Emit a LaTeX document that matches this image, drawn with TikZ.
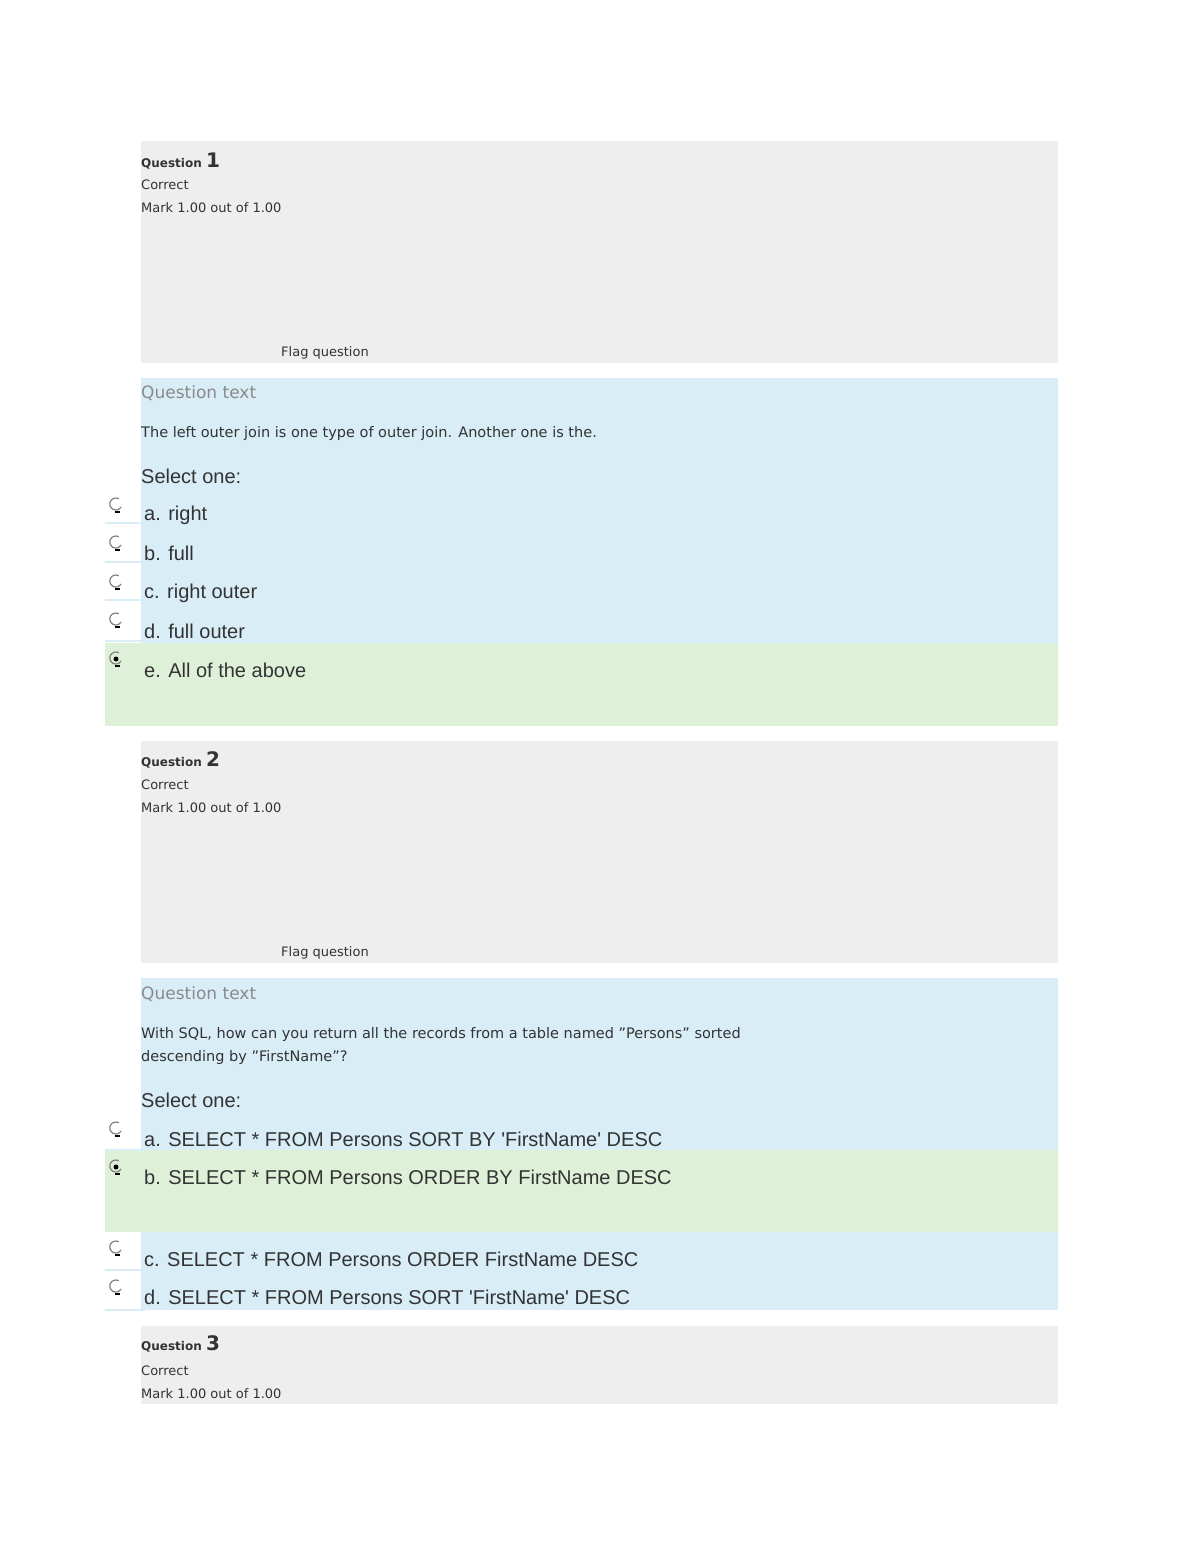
\documentclass[tikz,border=0pt]{standalone}
\usepackage{fontspec}
\setmainfont{DejaVu Sans}
\newfontfamily\optfont{Liberation Sans}
\definecolor{greybg}{HTML}{EEEEEE}
\definecolor{bluebg}{HTML}{D9EDF7}
\definecolor{greenbg}{HTML}{DFF0D8}
\definecolor{txt}{HTML}{333333}
\definecolor{qtxt}{HTML}{8A8A8A}
\tikzset{
  lbl/.style={anchor=west,inner sep=0pt,text=txt,font=\fontsize{13}{15}\selectfont},
  qlbl/.style={anchor=west,inner sep=0pt,text=txt,font=\bfseries\fontsize{12}{14}\selectfont},
  qtl/.style={anchor=west,inner sep=0pt,text=qtxt,font=\fontsize{17}{19}\selectfont},
  body/.style={anchor=west,inner sep=0pt,text=txt,font=\fontsize{14.5}{17}\selectfont},
  opt/.style={anchor=west,inner sep=0pt,text=txt,font=\optfont\fontsize{20}{22}\selectfont},
  sel/.style={anchor=west,inner sep=0pt,text=txt,font=\optfont\fontsize{20}{22}\selectfont},
}
\newcommand{\radio}[3]{%
  \draw[gray,line width=1.2pt] (#1+5,#2+2) arc (30:300:6);
  \draw[black,line width=1.6pt] (#1-1,#2+7) -- (#1+4,#2+7);
  \ifnum#3=1 \fill[black] (#1,#2) circle (2.5);\fi}
\newcommand{\strip}[1]{\draw[bluebg,line width=2.5pt] (105,#1) -- (145,#1);}
\begin{document}
\begin{tikzpicture}[x=1pt,y=-1pt]
\useasboundingbox (0,0) rectangle (1200,1553);
\fill[white] (0,0) rectangle (1200,1553);
% Q1
\fill[greybg] (141,141) rectangle (1058,363);
\node[qlbl] (q1) at (141,161) {Question \fontsize{20}{22}\selectfont 1};
\node[lbl] (c1) at (141,185) {Correct};
\node[lbl] (m1) at (141,208) {Mark 1.00 out of 1.00};
\node[lbl] (f1) at (281,353) {Flag question};
\fill[bluebg] (141,378) rectangle (1058,643);
\fill[greenbg] (105,643) rectangle (1058,726);
\strip{523}\strip{562}\strip{600}\strip{641}
\node[qtl] (qt1) at (141,393) {Question text};
\node[body] (b1) at (141,433) {The left outer join is one type of outer join. Another one is the.};
\node[sel] (s1) at (141,476) {Select one:};
\radio{116}{505}{0}\node[opt] (o1a) at (144,515) {a. right};
\radio{116}{543}{0}\node[opt] (o1b) at (144,553) {b. full};
\radio{116}{582}{0}\node[opt] (o1c) at (144,593) {c. right outer};
\radio{116}{620}{0}\node[opt] (o1d) at (144,631) {d. full outer};
\radio{116}{659}{1}\node[opt] (o1e) at (144,670) {e. All of the above};
% Q2
\fill[greybg] (141,741) rectangle (1058,963);
\node[qlbl] (q2) at (141,760) {Question \fontsize{20}{22}\selectfont 2};
\node[lbl] (c2) at (141,785) {Correct};
\node[lbl] (m2) at (141,808) {Mark 1.00 out of 1.00};
\node[lbl] (f2) at (281,953) {Flag question};
\fill[bluebg] (141,978) rectangle (1058,1150);
\fill[greenbg] (105,1150) rectangle (1058,1232);
\fill[bluebg] (141,1232) rectangle (1058,1310);
\strip{1150}\strip{1270}\strip{1310}
\node[qtl] (qt2) at (141,994) {Question text};
\node[body] (b2) at (141,1034) {With SQL, how can you return all the records from a table named "Persons" sorted};
\node[body] (b2b) at (141,1057) {descending by "FirstName"?};
\node[sel] (s2) at (141,1100) {Select one:};
\radio{116}{1129}{0}\node[opt] (o2a) at (144,1139) {a. SELECT * FROM Persons SORT BY 'FirstName' DESC};
\radio{116}{1167}{1}\node[opt] (o2b) at (144,1177) {b. SELECT * FROM Persons ORDER BY FirstName DESC};
\radio{116}{1248}{0}\node[opt] (o2c) at (144,1259) {c. SELECT * FROM Persons ORDER FirstName DESC};
\radio{116}{1287}{0}\node[opt] (o2d) at (144,1297) {d. SELECT * FROM Persons SORT 'FirstName' DESC};
% Q3
\fill[greybg] (141,1326) rectangle (1058,1404);
\node[qlbl] (q3) at (141,1344) {Question \fontsize{20}{22}\selectfont 3};
\node[lbl] (c3) at (141,1371) {Correct};
\node[lbl] (m3) at (141,1394) {Mark 1.00 out of 1.00};
\end{tikzpicture}
\end{document}
